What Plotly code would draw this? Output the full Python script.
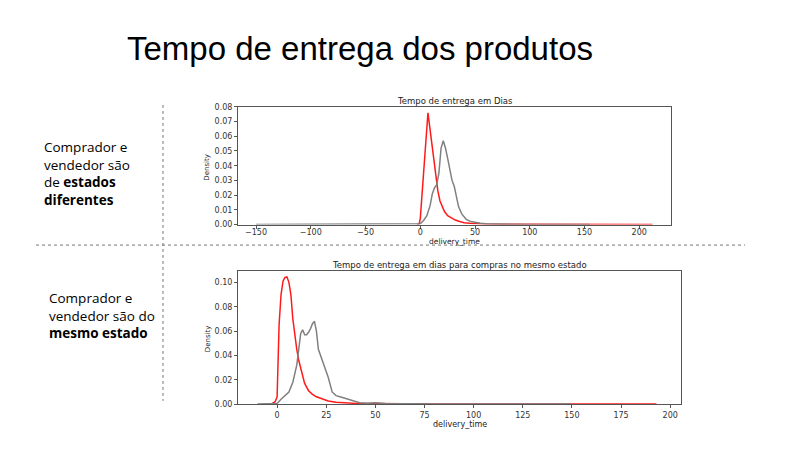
import plotly.graph_objects as go

# %%
# valores: densidade (kde) do tempo de entrega
# estados diferentes
red_top_x = [-3, -1, 0, 2, 4, 6, 7, 8, 10, 12, 14, 15, 16, 18, 20, 22, 25, 28,
             32, 36, 40, 45, 50, 60, 80, 120, 160, 212]
red_top_y = [0, 0.0005, 0.004, 0.025, 0.05, 0.071, 0.076, 0.07, 0.059, 0.048,
             0.034, 0.028, 0.023, 0.016, 0.012, 0.009, 0.006, 0.0045, 0.003,
             0.002, 0.0012, 0.0008, 0.0005, 0.0003, 0.0001, 0.00002, 0.00001, 0]
gray_top_x = [-150, -2, 0, 3, 6, 9, 11, 13, 15, 17, 19, 21, 23, 25, 27, 29, 31,
              33, 35, 38, 42, 46, 50, 55, 60, 70, 80, 100, 120, 155]
gray_top_y = [0, 0, 0.0005, 0.0027, 0.006, 0.013, 0.021, 0.025, 0.027, 0.035,
              0.052, 0.057, 0.052, 0.045, 0.037, 0.03, 0.026, 0.019, 0.012,
              0.007, 0.0035, 0.002, 0.0013, 0.0008, 0.0005, 0.0002, 0.0001,
              0.00003, 0.00001, 0]

# mesmo estado
red_bot_x = [-3, -1, 0, 1, 2, 3, 4, 5, 6, 7, 8, 9, 10, 11, 12, 14, 16, 18, 20,
             23, 26, 30, 35, 40, 50, 60, 80, 120, 150, 170, 193]
red_bot_y = [0, 0.002, 0.006, 0.065, 0.09, 0.101, 0.104, 0.1045, 0.1, 0.09,
             0.07, 0.055, 0.045, 0.036, 0.029, 0.017, 0.011, 0.008, 0.006,
             0.004, 0.0025, 0.0015, 0.001, 0.0006, 0.0005, 0.0002, 0.0001,
             0.00003, 0.00001, 0.00001, 0]
gray_bot_x = [-10, -2, 0, 2, 4, 6, 8, 10, 11, 12, 13, 14, 15, 16, 17, 18, 19,
              20, 21, 22, 24, 26, 28, 30, 32, 35, 38, 42, 46, 50, 55, 60, 80,
              100, 150]
gray_bot_y = [0, 0, 0.0005, 0.004, 0.007, 0.01, 0.018, 0.032, 0.045, 0.058,
              0.061, 0.057, 0.057, 0.059, 0.062, 0.066, 0.068, 0.06, 0.045,
              0.04, 0.031, 0.022, 0.01, 0.007, 0.006, 0.0045, 0.003, 0.0012,
              0.0008, 0.0012, 0.0005, 0.0003, 0.0001, 0.00005, 0]

top_xticks = [-150, -100, -50, 0, 50, 100, 150, 200]
top_yticks = [0.00, 0.01, 0.02, 0.03, 0.04, 0.05, 0.06, 0.07, 0.08]
bot_xticks = [0, 25, 50, 75, 100, 125, 150, 175, 200]
bot_yticks = [0.00, 0.02, 0.04, 0.06, 0.08, 0.10]

# %%
RED = "#ff1a1a"
GRAY = "#808080"
tickfont = dict(family="DejaVu Sans", size=8, color="#333333")

fig = go.Figure()
fig.add_trace(go.Scatter(x=red_top_x, y=red_top_y, mode="lines",
                         line=dict(color=RED, width=1.5), xaxis="x", yaxis="y"))
fig.add_trace(go.Scatter(x=gray_top_x, y=gray_top_y, mode="lines",
                         line=dict(color=GRAY, width=1.5), xaxis="x", yaxis="y"))
fig.add_trace(go.Scatter(x=red_bot_x, y=red_bot_y, mode="lines",
                         line=dict(color=RED, width=1.5), xaxis="x2", yaxis="y2"))
fig.add_trace(go.Scatter(x=gray_bot_x, y=gray_bot_y, mode="lines",
                         line=dict(color=GRAY, width=1.5), xaxis="x2", yaxis="y2"))

ax_style = dict(showline=True, mirror=True, linecolor="#555555", linewidth=1,
                showgrid=False, zeroline=False, ticks="outside", ticklen=3,
                tickcolor="#555555", tickfont=tickfont)

fig.update_layout(
    width=800, height=450,
    margin=dict(l=0, r=0, t=0, b=0),
    paper_bgcolor="white", plot_bgcolor="white",
    showlegend=False,
    xaxis=dict(domain=[0.2975, 0.83875], range=[-166.5, 229],
               tickvals=top_xticks, anchor="y", ticklabelstandoff=-3,
               **ax_style),
    yaxis=dict(domain=[0.5, 0.7667], range=[0, 0.08], tickvals=top_yticks,
               tickformat=".2f", anchor="x", **ax_style),
    xaxis2=dict(domain=[0.2975, 0.85125], range=[-19.9, 205.5],
                tickvals=bot_xticks, anchor="y2", ticklabelstandoff=0,
                **ax_style),
    yaxis2=dict(domain=[0.0927, 0.3956], range=[0, 0.1097],
                tickvals=bot_yticks, tickformat=".2f", anchor="x2", **ax_style),
)

annotations = [
    dict(x=360 / 800, y=1 - 45 / 450, text="Tempo de entrega dos produtos",
         font=dict(family="Liberation Sans", size=33, color="black")),
    dict(x=454.5 / 800, y=1 - 99 / 450, text="Tempo de entrega em Dias",
         font=dict(family="DejaVu Sans", size=8.5, color="#222")),
    dict(x=459.5 / 800, y=1 - 266 / 450,
         text="Tempo de entrega em dias para compras no mesmo estado",
         font=dict(family="DejaVu Sans", size=8.5, color="#222")),
    dict(x=207 / 800, y=1 - 166 / 450, text="Density", textangle=-90,
         font=dict(family="DejaVu Sans", size=7, color="#222")),
    dict(x=208 / 800, y=1 - 342 / 450, text="Density", textangle=-90,
         font=dict(family="DejaVu Sans", size=7, color="#222")),
    dict(x=454.5 / 800, y=1 - 242.5 / 450, text="delivery_time",
         font=dict(family="DejaVu Sans", size=7.5, color="#222")),
    dict(x=460 / 800, y=1 - 429 / 450, text="delivery_time",
         font=dict(family="DejaVu Sans", size=8, color="#222")),
]
for a in annotations:
    a.update(xref="paper", yref="paper", showarrow=False,
             xanchor="center", yanchor="middle")

# textos à esquerda (um bloco por quadrante)
left_font = dict(family="Open Sans", size=13.5, color="black")
left_blocks = [
    (42, 173, "Comprador e<br>vendedor são<br>de <b>estados</b><br><b>diferentes</b>"),
    (47, 318, "Comprador e<br>vendedor são do<br><b>mesmo estado</b>"),
]
for lx, ly, txt in left_blocks:
    annotations.append(dict(x=lx / 800, y=1 - ly / 450, text=txt, font=left_font,
                            align="left", xref="paper", yref="paper",
                            showarrow=False, xanchor="left", yanchor="middle"))
fig.update_layout(annotations=annotations)

# linhas pontilhadas separando os quadrantes
line_style = dict(color="#777777", width=1, dash="dot")
fig.add_shape(type="line", xref="paper", yref="paper",
              x0=163 / 800, x1=163 / 800, y0=1 - 103 / 450, y1=1 - 405 / 450,
              line=line_style)
fig.add_shape(type="line", xref="paper", yref="paper",
              x0=36 / 800, x1=745 / 800, y0=1 - 246 / 450, y1=1 - 246 / 450,
              line=line_style)

# a página padrão tem margem de 8px no body
fig.write_html("out.html", config={"displayModeBar": False},
               post_script="document.body.style.margin='0';")
